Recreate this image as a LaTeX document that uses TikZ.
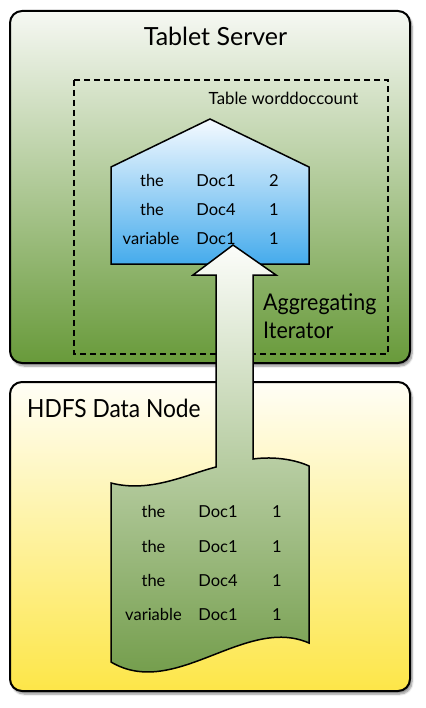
\documentclass[tikz,border=0pt]{standalone}
\usepackage{fontspec}
\setmainfont{Lato}
\usetikzlibrary{shadows.blur}
\definecolor{gtop}{RGB}{246,248,243}
\definecolor{gbot}{RGB}{104,154,58}
\definecolor{ytop}{RGB}{255,254,246}
\definecolor{ybot}{RGB}{253,230,72}
\definecolor{btop}{RGB}{245,250,255}
\definecolor{bbot}{RGB}{69,171,236}
\definecolor{atop}{RGB}{252,253,250}
\definecolor{abot}{RGB}{108,152,66}
\tikzset{
  panel/.style={draw=black, line width=2pt, rounded corners=12pt,
    blur shadow={shadow xshift=2pt, shadow yshift=-3pt, shadow blur steps=6, shadow opacity=45}},
  cell/.style={anchor=base, inner sep=0pt, font=\fontsize{16.5}{19}\selectfont},
  bigtext/.style={inner sep=0pt, font=\fontsize{25}{30}\selectfont},
}
\begin{document}
\begin{tikzpicture}[x=1pt, y=-1pt]
\useasboundingbox (0,0) rectangle (425,708);
% panels
\path[panel, top color=gtop, bottom color=gbot] (10,11) rectangle (410,363);
\path[panel, top color=ytop, bottom color=ybot] (10,382) rectangle (410,691);
% dashed table region
\draw[line width=1.5pt, dash pattern=on 6pt off 4pt] (74,80) rectangle (388,354);
% house (table)
\draw[line width=1.5pt, top color=btop, bottom color=bbot]
  (210,119) -- (309,167) -- (309,264) -- (111,264) -- (111,167) -- cycle;
% arrow + document
\draw[line width=1.5pt, line join=miter, top color=atop, bottom color=abot]
  (233,245) -- (276,275) -- (253,275) -- (253,459)
  .. controls (275,456) and (296,460) .. (309,466) -- (309,643)
  .. controls (245,615) and (175,700) .. (111,662) -- (111,483)
  .. controls (150,493) and (185,475) .. (216,467) -- (216,275)
  -- (193,275) -- cycle;
% titles
\node[bigtext, anchor=base] (ts) at (215.5,46) {Tablet Server};
\node[bigtext, anchor=base west] (hd) at (27,417) {\scalebox{0.91}[1]{HDFS Data Node}};
\node[bigtext, anchor=base west, font=\fontsize{23}{28}\selectfont] (ag) at (263,310) {\scalebox{0.93}[1]{Aggregating}};
\node[bigtext, anchor=base west, font=\fontsize{23}{28}\selectfont] (it) at (263,338) {\scalebox{0.93}[1]{Iterator}};
\node[anchor=base, inner sep=0pt, font=\fontsize{16.8}{19}\selectfont] (tw) at (283.5,105) {Table worddoccount};
% house rows
\node[cell] (h11) at (152,187) {the};
\node[cell] (h12) at (216,187) {Doc1};
\node[cell] (h13) at (274,187) {2};
\node[cell] (h21) at (152,216) {the};
\node[cell] (h22) at (216,216) {Doc4};
\node[cell] (h23) at (274,216) {1};
\node[cell] (h31) at (151,244) {variable};
\node[cell] (h32) at (216,244) {Doc1};
\node[cell] (h33) at (274,244) {1};
% document rows
\node[cell] (d11) at (153.5,517) {the};
\node[cell] (d12) at (218,517) {Doc1};
\node[cell] (d13) at (277,517) {1};
\node[cell] (d21) at (153.5,552) {the};
\node[cell] (d22) at (218,552) {Doc1};
\node[cell] (d23) at (277,552) {1};
\node[cell] (d31) at (153.5,586) {the};
\node[cell] (d32) at (218,586) {Doc4};
\node[cell] (d33) at (277,586) {1};
\node[cell] (d41) at (153.5,620) {variable};
\node[cell] (d42) at (218,620) {Doc1};
\node[cell] (d43) at (277,620) {1};
\end{tikzpicture}
\end{document}
